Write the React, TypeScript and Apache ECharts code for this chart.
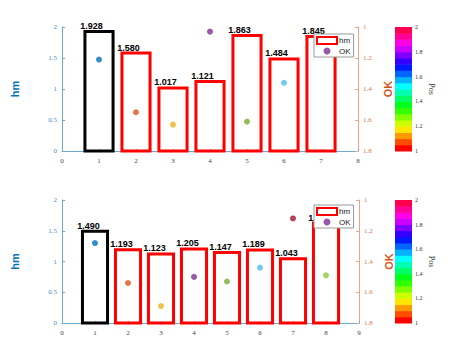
import React, { useEffect, useRef } from "react";
import * as echarts from "echarts";

// ---------- data ----------
const topX = [1, 2, 3, 4, 5, 6, 7];
const topHm = [1.928, 1.58, 1.017, 1.121, 1.863, 1.484, 1.845];
const topOkX = [1, 2, 3, 4, 5, 6];
const topOk = [1.21, 1.55, 1.63, 1.03, 1.61, 1.36];
const topOkColors = ["#0072BD", "#D95319", "#EDB120", "#7E2F8E", "#77AC30", "#4DBEEE"];

const bottomX = [1, 2, 3, 4, 5, 6, 7, 8];
const bottomHm = [1.49, 1.193, 1.123, 1.205, 1.147, 1.189, 1.043, 1.625];
const bottomOkX = [1, 2, 3, 4, 5, 6, 7, 8];
const bottomOk = [1.28, 1.54, 1.69, 1.5, 1.53, 1.44, 1.12, 1.49];
const bottomOkColors = ["#0072BD", "#D95319", "#EDB120", "#7E2F8E", "#77AC30", "#4DBEEE", "#A2142F", "#86C93E"];

const topXTicks = { min: 0, max: 8 };
const bottomXTicks = { min: 0, max: 9 };

// colour bar (Pos) boundaries and colours (hsv map)
const cbStops = [1, 1.05, 1.1, 1.15, 1.2, 1.25, 1.3, 1.35, 1.4, 1.45, 1.5, 1.55, 1.6, 1.65, 1.7, 1.75, 1.8, 1.85, 1.9, 1.95, 2];
const cbColors = [
  "#FF0000", "#FF4D00", "#FF9900", "#FFE600", "#CCFF00", "#80FF00", "#33FF00", "#00FF1A", "#00FF66", "#00FFB3",
  "#00FFFF", "#00B3FF", "#0066FF", "#001AFF", "#3300FF", "#8000FF", "#CC00FF", "#FF00E6", "#FF0099", "#FF004D",
];

const BLUE_LINE = "#6aa8d6";
const BLUE_TXT = "#3f8cc4";
const ORANGE_LINE = "#eaa58a";
const ORANGE_TXT = "#d8754c";
const SERIF = "'Liberation Serif', 'DejaVu Serif', serif";
const SANS = "'Liberation Sans', Arial, sans-serif";

function barRender(params: any, api: any) {
  const x = api.value(0);
  const h = api.value(1);
  const idx = api.value(2);
  const p0 = api.coord([x - 0.38, h]);
  const p1 = api.coord([x + 0.38, 0]);
  const lp = api.coord([x - 0.2, h]);
  return {
    type: "group",
    children: [
      {
        type: "rect",
        shape: { x: p0[0], y: p0[1], width: p1[0] - p0[0], height: p1[1] - p0[1] },
        style: { fill: "none", stroke: idx === 0 ? "#000000" : "#FF0000", lineWidth: 3 },
      },
      {
        type: "text",
        x: lp[0],
        y: p0[1] - 1,
        style: {
          text: h.toFixed(3),
          fill: "#000",
          fontSize: 9,
          fontWeight: "bold",
          fontFamily: SANS,
          align: "center",
          verticalAlign: "bottom",
        },
      },
    ],
  };
}

function cbRender(params: any, api: any) {
  const lo = api.value(0);
  const hi = api.value(1);
  const i = api.value(2);
  const p0 = api.coord([0, hi]);
  const p1 = api.coord([1, lo]);
  return {
    type: "rect",
    shape: { x: p0[0], y: p0[1], width: p1[0] - p0[0], height: p1[1] - p0[1] + 0.5 },
    style: { fill: cbColors[i], stroke: null },
  };
}

function xAxisCfg(gridIndex: number, t: { min: number; max: number }) {
  return {
    type: "value",
    gridIndex,
    min: t.min,
    max: t.max,
    interval: 1,
    axisLine: { show: true, onZero: false, lineStyle: { color: BLUE_LINE, width: 1 } },
    axisTick: { show: true, inside: true, length: 2, lineStyle: { color: BLUE_LINE } },
    axisLabel: { fontSize: 7, fontFamily: SERIF, color: "#444", margin: 6 },
    splitLine: { show: false },
  };
}

function leftY(gridIndex: number) {
  return {
    type: "value",
    gridIndex,
    position: "left",
    min: 0,
    max: 2,
    interval: 0.5,
    name: "hm",
    nameLocation: "middle",
    nameRotate: 90,
    nameGap: 42,
    nameTextStyle: { color: "#0072BD", fontSize: 11, fontWeight: "bold", fontFamily: SANS },
    axisLine: { show: true, lineStyle: { color: BLUE_LINE } },
    axisTick: { show: true, inside: true, length: 3, lineStyle: { color: BLUE_LINE } },
    axisLabel: { fontSize: 7, fontFamily: SERIF, color: BLUE_TXT, margin: 5 },
    splitLine: { show: false },
  };
}

function rightY(gridIndex: number) {
  return {
    type: "value",
    gridIndex,
    position: "right",
    inverse: true,
    min: 1,
    max: 1.8,
    interval: 0.2,
    name: "OK",
    nameLocation: "middle",
    nameRotate: 90,
    nameGap: 17,
    nameTextStyle: { color: "#D95319", fontSize: 11, fontWeight: "bold", fontFamily: SANS },
    axisLine: { show: true, lineStyle: { color: ORANGE_LINE } },
    axisTick: { show: true, inside: true, length: 3, lineStyle: { color: ORANGE_LINE } },
    axisLabel: { fontSize: 7, fontFamily: SERIF, color: ORANGE_TXT, margin: 5 },
    splitLine: { show: false },
  };
}

function cbY(gridIndex: number) {
  return {
    type: "value",
    gridIndex,
    position: "right",
    min: 1,
    max: 2,
    interval: 0.2,
    name: "Pos",
    nameLocation: "middle",
    nameRotate: -90,
    nameGap: 15,
    nameTextStyle: { color: "#333", fontSize: 8, fontFamily: SERIF },
    axisLine: { show: false },
    axisTick: { show: false },
    axisLabel: { fontSize: 6, fontFamily: SERIF, color: "#333", margin: 3 },
    splitLine: { show: false },
  };
}

function legendCfg(top: number) {
  return {
    orient: "vertical",
    left: 314,
    top,
    padding: [2, 3, 2, 2],
    itemGap: 2,
    itemWidth: 20,
    itemHeight: 7,
    backgroundColor: "#ffffff",
    borderColor: "#999",
    borderWidth: 1,
    borderRadius: 0,
    textStyle: { fontSize: 8, fontFamily: SANS, color: "#222", padding: [0, 0, 0, -3] },
    data: [
      { name: "hm", icon: "rect", itemStyle: { color: "rgba(0,0,0,0)", borderColor: "#FF0000", borderWidth: 2 } },
      { name: "OK", icon: "circle", itemStyle: { color: "#7E2F8E", borderWidth: 0 } },
    ],
    selectedMode: false,
  };
}

export default function App() {
  const ref = useRef<HTMLDivElement>(null);
  useEffect(() => {
    if (!ref.current) return;
    const chart = echarts.init(ref.current, null, { renderer: "svg" });
    const cbData = cbColors.map((_, i) => [cbStops[i], cbStops[i + 1], i]);
    chart.setOption({
      animation: false,
      backgroundColor: "#ffffff",
      grid: [
        { left: 62, top: 27, width: 296, height: 124 },
        { left: 62, top: 200, width: 297, height: 123 },
        { left: 395, top: 27, width: 17, height: 124 },
        { left: 395, top: 200, width: 17, height: 123 },
      ],
      xAxis: [
        xAxisCfg(0, topXTicks),
        xAxisCfg(1, bottomXTicks),
        { type: "value", gridIndex: 2, min: 0, max: 1, show: false },
        { type: "value", gridIndex: 3, min: 0, max: 1, show: false },
      ],
      yAxis: [leftY(0), rightY(0), leftY(1), rightY(1), cbY(2), cbY(3)],
      legend: [legendCfg(34), legendCfg(205)],
      series: [
        {
          name: "hm",
          type: "custom",
          xAxisIndex: 0,
          yAxisIndex: 0,
          renderItem: barRender,
          data: topX.map((x, i) => [x, topHm[i], i]),
          z: 2,
        },
        {
          name: "OK",
          type: "scatter",
          xAxisIndex: 0,
          yAxisIndex: 1,
          symbolSize: 6,
          data: topOkX.map((x, i) => ({ value: [x, topOk[i]], itemStyle: { color: topOkColors[i] } })),
          z: 3,
        },
        {
          name: "hm",
          type: "custom",
          xAxisIndex: 1,
          yAxisIndex: 2,
          renderItem: barRender,
          data: bottomX.map((x, i) => [x, bottomHm[i], i]),
          z: 2,
        },
        {
          name: "OK",
          type: "scatter",
          xAxisIndex: 1,
          yAxisIndex: 3,
          symbolSize: 6,
          data: bottomOkX.map((x, i) => ({ value: [x, bottomOk[i]], itemStyle: { color: bottomOkColors[i] } })),
          z: 3,
        },
        {
          name: "Pos",
          type: "custom",
          xAxisIndex: 2,
          yAxisIndex: 4,
          renderItem: cbRender,
          data: cbData,
        },
        {
          name: "Pos2",
          type: "custom",
          xAxisIndex: 3,
          yAxisIndex: 5,
          renderItem: cbRender,
          data: cbData,
        },
      ],
    });
    return () => chart.dispose();
  }, []);
  return (
    <div
      ref={ref}
      style={{ position: "fixed", left: 0, top: 0, width: 474, height: 363, background: "#fff" }}
    />
  );
}
